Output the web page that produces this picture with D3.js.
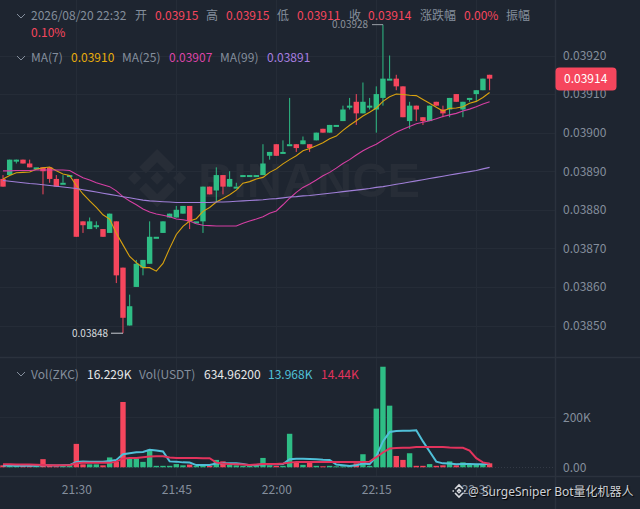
<!DOCTYPE html>
<html>
<head>
<meta charset="utf-8">
<script src="https://cdn.jsdelivr.net/npm/d3@7"></script>
<style>
  html, body { margin: 0; padding: 0; background: #1e2530; overflow: hidden; }
  text { font-family: "Noto Sans CJK SC", "Noto Sans", sans-serif; }
</style>
</head>
<body>
<script>
// prices are in units of 0.00001
var opens  = [3888,3889,3893,3893,3892,3891,3891,3891,3888,3887,3889,3888,3877,3875,3876,3875,3874,3877,3865,3850,3860,3865,3866,3873,3874,3878,3878,3879,3881,3877,3877,3886,3885,3889,3886,3886,3889,3889,3889,3889,3894,3897,3895,3897,3897,3897,3897,3898,3901,3900,3902,3903,3907,3908,3905,3907,3906,3909,3914,3914,3912,3903,3907,3904,3903,3908,3906,3906,3910,3906,3909,3910,3911,3915];
var closes = [3886,3893,3893,3892,3891,3891,3890,3888,3886,3887,3889,3873,3876,3877,3876,3873,3879,3863,3852,3855,3866,3867,3873,3873,3877,3879,3880,3881,3877,3877,3886,3884,3889,3886,3888,3886,3889,3889,3889,3892,3895,3894,3895,3897,3896,3898,3896,3900,3900,3902,3902,3906,3907,3905,3908,3907,3910,3914,3914,3912,3904,3907,3906,3903,3907,3907,3905,3909,3908,3908,3909,3911,3914,3914];
var highs  = [3889,3893,3893,3893,3893,3891,3891,3891,3889,3889,3889,3888,3877,3878,3877,3875,3879,3877,3865,3858,3867,3867,3877,3873,3877,3879,3881,3881,3881,3877,3886,3886,3891,3889,3890,3887,3889,3889,3889,3897,3895,3897,3898,3909,3897,3899,3897,3900,3901,3902,3902,3907,3909,3910,3913,3909,3912,3928,3920,3915,3912,3908,3907,3904,3907,3908,3907,3909,3910,3908,3909,3911,3914,3915];
var lows   = [3886,3889,3892,3892,3891,3891,3884,3887,3886,3887,3889,3873,3874,3875,3875,3873,3874,3861,3848,3850,3860,3863,3866,3873,3874,3878,3878,3879,3875,3877,3874,3884,3882,3884,3886,3886,3889,3889,3889,3889,3893,3894,3895,3897,3895,3897,3895,3898,3900,3900,3902,3903,3906,3902,3905,3906,3900,3907,3914,3911,3904,3901,3903,3902,3903,3907,3904,3904,3908,3904,3908,3908,3911,3911];

var ma7  = [3888,3888.9,3889.6,3889.7,3889.8,3890.5,3890.9,3891.1,3890.1,3889.3,3888.9,3886.3,3884.1,3882.3,3880.6,3878.7,3877.6,3873.9,3870.9,3867.9,3866.3,3865,3865,3864.1,3866.1,3870,3873.6,3875.7,3877.1,3877.7,3879.6,3880.6,3882,3882.9,3883.9,3885.1,3886.9,3887.3,3888,3888.4,3889.7,3890.6,3891.9,3893,3894,3895.3,3895.9,3896.6,3897.4,3898.4,3899.1,3900.6,3901.9,3903.1,3904.3,3905.3,3906.4,3908.1,3909.3,3910,3909.9,3909.7,3909.6,3908.6,3907.6,3906.6,3905.6,3906.3,3906.4,3906.7,3907.6,3908.1,3909.1,3910.4];
var ma25 = [3890.1,3890.1,3890.2,3890.2,3890.2,3890.3,3890.3,3890.3,3890.3,3890.3,3890.2,3889.2,3888.3,3887.7,3887,3886.5,3886,3884.9,3883.4,3882.3,3881.3,3880.2,3879.4,3878.9,3878.6,3878.2,3877.6,3877.4,3877.1,3876.4,3876,3875.9,3875.8,3875.8,3875.8,3875.8,3876.5,3877.1,3877.6,3878.2,3879.1,3879.7,3881.3,3883,3884.5,3885.8,3886.7,3887.7,3888.8,3889.7,3890.8,3892,3893,3894.2,3895.3,3896.2,3897,3898.1,3899.1,3900.1,3900.9,3901.6,3902.3,3902.7,3903.1,3903.6,3904.2,3904.6,3905,3905.6,3906.1,3906.7,3907.4,3908];
var ma99 = [3887.6,3887.4,3887.2,3887,3886.8,3886.7,3886.5,3886.3,3886.1,3885.9,3885.7,3885.5,3885.2,3884.9,3884.6,3884.3,3884,3883.7,3883.4,3883.1,3882.8,3882.5,3882.3,3882.2,3882.1,3882,3881.9,3881.9,3881.9,3881.9,3881.9,3881.9,3882,3882,3882.1,3882.2,3882.3,3882.4,3882.5,3882.6,3882.8,3882.9,3883.1,3883.3,3883.4,3883.6,3883.7,3883.9,3884.1,3884.3,3884.5,3884.7,3884.9,3885.1,3885.3,3885.5,3885.8,3886,3886.3,3886.6,3886.9,3887.2,3887.5,3887.8,3888.1,3888.4,3888.7,3889,3889.3,3889.6,3889.9,3890.2,3890.6,3891];

// volume, thousands of ZKC
var vols    = [8,12,6,8,8,6,33,6,4,8,8,95,12,12,12,8,40,22,265,37,36,22,71,6,6,6,13,8,11,6,8,6,30,24,10,8,6,8,8,38,8,6,6,136,19,10,19,6,4,6,4,4,4,16,53,6,238,408,250,46,30,57,6,6,13,6,8,24,8,20,12,10,10,16.229];
var volMa5  = [7,7,6,6,6,6,8,8,7,8,9,22,24,23,23,23,26,30,53,57,61,62,71,68,64,24,23,20,19,9,9,9,15,16,16,16,13,8,9,12,12,12,13,33,35,35,34,33,31,30,11,8,5,8,15,13,44,105,143,147,148,148,150,105,64,23,16,15,12,13,13,12,12,13.968];
var volMa10 = [12,12,11,11,11,10,9,8,8,8,8,16,18,18,18,18,18,23,35,38,38,41,44,45,45,40,38,38,38,38,37,37,19,15,13,12,11,9,11,13,13,13,15,19,22,22,22,22,22,22,22,22,22,22,22,23,41,60,76,78,79,79,82,82,82,82,82,80,79,79,68,37,20,14.44];

var priceTicks = [3850,3860,3870,3880,3890,3900,3910,3920];
var volTicks = [0,200];
var timeTicks = [11,26,41,56,71];
var timeLabels = ["21:30","21:45","22:00","22:15","22:30"];

var green = "#2ebd85", red = "#f6465d", gray = "#848e9c", gridCol = "#252c37", sepCol = "#2b323d";

var svg = d3.select("body").append("svg")
    .attr("width", 640)
    .attr("height", 509)
    .style("display", "block");

var x = d3.scaleLinear().domain([0, 73]).range([3, 489.6]);
var y = d3.scaleLinear().domain([3850, 3920]).range([325.5, 55.5]);
var yVol = d3.scaleLinear().domain([0, 200]).range([467.3, 418]);

// grid
svg.selectAll(".hgrid").data(priceTicks).enter().append("line")
    .attr("x1", 0).attr("x2", 555)
    .attr("y1", function(d) { return Math.round(y(d)) + 0.5; })
    .attr("y2", function(d) { return Math.round(y(d)) + 0.5; })
    .attr("stroke", gridCol);
svg.append("line").attr("x1", 0).attr("x2", 555).attr("y1", 417.5).attr("y2", 417.5).attr("stroke", gridCol);
svg.append("line").attr("x1", 0).attr("x2", 555).attr("y1", 467.5).attr("y2", 467.5)
    .attr("stroke", "#333a46").attr("stroke-dasharray", "1,2");
svg.selectAll(".vgrid").data(timeTicks).enter().append("line")
    .attr("y1", 0).attr("y2", 476)
    .attr("x1", function(d) { return Math.round(x(d)) + 0.5; })
    .attr("x2", function(d) { return Math.round(x(d)) + 0.5; })
    .attr("stroke", gridCol);

// binance watermark
svg.append("path")
    .attr("transform", "translate(128,149) scale(0.46)")
    .attr("fill", "#272d37")
    .attr("d", "M38.73 53.2l24.59-24.58 24.6 24.6 14.3-14.31L63.32 0l-38.9 38.9zM0 63.31l14.3-14.31 14.31 14.31-14.31 14.3zM38.73 73.41L63.32 98l24.6-24.6 14.31 14.29-38.9 38.91-38.91-38.88zM98 63.31l14.3-14.31 14.31 14.3-14.31 14.32zM77.83 63.3L63.32 48.78 48.81 63.28l14.51 14.5z");
svg.append("text")
    .attr("x", 198).attr("y", 197)
    .attr("textLength", 222)
    .attr("lengthAdjust", "spacingAndGlyphs")
    .style("font-family", "'Liberation Sans', sans-serif")
    .style("font-weight", "bold")
    .style("font-size", "49px")
    .attr("fill", "#272d37")
    .text("BINANCE");

// separators
svg.append("line").attr("x1", 0).attr("x2", 640).attr("y1", 357.5).attr("y2", 357.5).attr("stroke", sepCol).attr("stroke-width", 1.5);
svg.append("line").attr("x1", 0).attr("x2", 640).attr("y1", 476.5).attr("y2", 476.5).attr("stroke", sepCol).attr("stroke-width", 1.5);
svg.append("line").attr("x1", 555.5).attr("x2", 555.5).attr("y1", 0).attr("y2", 509).attr("stroke", sepCol).attr("stroke-width", 1.5);

// candles
var idx = d3.range(opens.length);
var candle = svg.append("g");
candle.selectAll(".wick").data(idx).enter().append("line")
    .attr("x1", function(i) { return x(i); })
    .attr("x2", function(i) { return x(i); })
    .attr("y1", function(i) { return y(highs[i]); })
    .attr("y2", function(i) { return y(lows[i]); })
    .attr("stroke", function(i) { return closes[i] >= opens[i] ? green : red; })
    .attr("stroke-width", 1);
candle.selectAll(".body").data(idx).enter().append("rect")
    .attr("x", function(i) { return x(i) - 2.7; })
    .attr("width", 5.4)
    .attr("y", function(i) { return y(Math.max(opens[i], closes[i])); })
    .attr("height", function(i) { return Math.max(2, Math.abs(y(opens[i]) - y(closes[i]))); })
    .attr("fill", function(i) { return closes[i] >= opens[i] ? green : red; });

// moving averages
function drawLine(values, yScale, color, width) {
  var line = d3.line().x(function(d, i) { return x(i); }).y(function(d) { return yScale(d); });
  svg.append("path").datum(values)
      .attr("d", line)
      .attr("fill", "none")
      .attr("stroke", color)
      .attr("stroke-width", width);
}
drawLine(ma7, y, "#d9a20f", 1.1);
drawLine(ma25, y, "#d53fa3", 1.1);
drawLine(ma99, y, "#a07fd8", 1.1);

// volume bars
svg.selectAll(".vol").data(idx).enter().append("rect")
    .attr("x", function(i) { return x(i) - 2.7; })
    .attr("width", 5.4)
    .attr("y", function(i) { return yVol(vols[i]); })
    .attr("height", function(i) { return yVol(0) - yVol(vols[i]); })
    .attr("fill", function(i) { return closes[i] >= opens[i] ? green : red; });
drawLine(volMa5, yVol, "#50c0d8", 2);
drawLine(volMa10, yVol, "#e2335c", 2);

// axes
var priceFmt = function(d) { return (d / 100000).toFixed(5); };
var priceAxis = svg.append("g").attr("transform", "translate(555,0)")
    .call(d3.axisRight(y).tickValues(priceTicks).tickSize(0).tickPadding(8).tickFormat(priceFmt));
var volAxis = svg.append("g").attr("transform", "translate(555,0)")
    .call(d3.axisRight(yVol).tickValues(volTicks).tickSize(0).tickPadding(8)
      .tickFormat(function(d) { return d == 0 ? "0.00" : d + "K"; }));
var timeAxis = svg.append("g").attr("transform", "translate(0,476)")
    .call(d3.axisBottom(x).tickValues(timeTicks).tickSize(0).tickPadding(9)
      .tickFormat(function(d, i) { return timeLabels[i]; }));
[priceAxis, volAxis, timeAxis].forEach(function(a) {
  a.select(".domain").remove();
  a.selectAll("text").attr("fill", gray).style("font-size", "12px")
      .style("font-family", "'Noto Sans CJK SC', sans-serif");
});

// last price tag
svg.append("rect").attr("x", 555.5).attr("y", 67.5).attr("width", 61).attr("height", 23).attr("rx", 4).attr("fill", "#f6465d");
svg.append("text").attr("x", 564).attr("y", y(closes[73]) + 4.5).attr("fill", "#fff").style("font-size", "12px").text(priceFmt(closes[73]));

// legend rows
function label(px, py, str, color) {
  svg.append("text").attr("x", px).attr("y", py).attr("fill", color).style("font-size", "12px").text(str);
}
function chevron(py) {
  svg.append("path").attr("d", "M17 " + (py - 2) + "l4 4l4 -4").attr("fill", "none").attr("stroke", gray).attr("stroke-width", 1);
}
chevron(16);
label(31, 20, "2026/08/20 22:32", gray);
label(135, 20, "开", gray);
label(155, 20, "0.03915", red);
label(206, 20, "高", gray);
label(226, 20, "0.03915", red);
label(277, 20, "低", gray);
label(297, 20, "0.03911", red);
label(349, 20, "收", gray);
label(368, 20, "0.03914", red);
label(420, 20, "涨跌幅", gray);
label(464, 20, "0.00%", red);
label(506, 20, "振幅", gray);
label(31, 37, "0.10%", red);

chevron(58);
label(31, 62, "MA(7)", gray);
label(71, 62, "0.03910", "#e8ad0c");
label(122, 62, "MA(25)", gray);
label(169, 62, "0.03907", "#dd44a8");
label(220, 62, "MA(99)", gray);
label(267, 62, "0.03891", "#a77ee0");

chevron(374);
label(31, 379, "Vol(ZKC)", gray);
label(87, 379, "16.229K", "#e6e8ea");
label(139, 379, "Vol(USDT)", gray);
label(204, 379, "634.96200", "#e6e8ea");
label(268, 379, "13.968K", "#50c0d8");
label(321, 379, "14.44K", "#e2335c");

// high and low marks
svg.append("line").attr("x1", 372).attr("x2", 383).attr("y1", y(3928)).attr("y2", y(3928)).attr("stroke", "#9aa0a8");
svg.append("text").attr("x", 332).attr("y", y(3928) + 3).attr("fill", "#8c929b").style("font-size", "10px").text("0.03928");
svg.append("line").attr("x1", 111).attr("x2", 123).attr("y1", y(3848)).attr("y2", y(3848)).attr("stroke", "#c8ccd2");
svg.append("text").attr("x", 72).attr("y", y(3848) + 3.5).attr("fill", "#d8dbdf").style("font-size", "10px").text("0.03848");

// bot watermark
svg.append("path")
    .attr("transform", "translate(452,484)")
    .attr("fill", "none").attr("stroke", "#d8dade").attr("stroke-width", 1.6)
    .attr("d", "M3 5L7 1L11 5M3 9L7 13L11 9M0.5 7L2 7M12 7L13.5 7M5.5 7L7 5.5L8.5 7L7 8.5Z");
svg.append("text").attr("x", 468).attr("y", 496)
    .attr("fill", "#ced1d6")
    .style("font-family", "'Noto Sans', 'Noto Sans CJK SC', sans-serif")
    .style("font-size", "12px")
    .style("text-shadow", "1px 1px 1px #000")
    .text("@ SurgeSniper Bot量化机器人");
</script>
</body>
</html>
